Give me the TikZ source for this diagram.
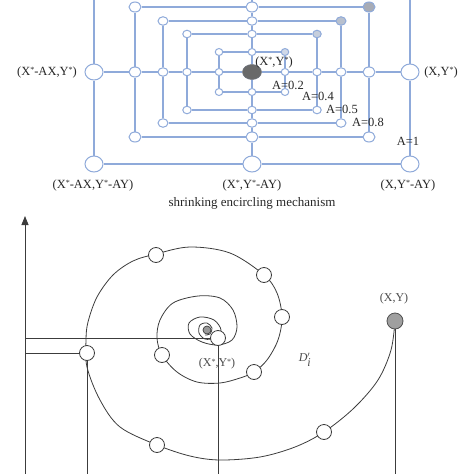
\documentclass[tikz,border=0pt]{standalone}
\usepackage{fontspec}
\setmainfont{Liberation Serif}
\usetikzlibrary{shapes.geometric,arrows.meta}
\definecolor{gb}{RGB}{143,170,218}
\definecolor{dk}{RGB}{60,60,60}
\definecolor{g8}{RGB}{168,172,182}
\definecolor{g5}{RGB}{184,192,206}
\definecolor{g4}{RGB}{198,206,220}
\definecolor{g2}{RGB}{208,216,232}
\definecolor{cg}{RGB}{105,105,105}
\newcommand\st{\raisebox{2.4pt}{\fontsize{8pt}{8pt}\selectfont *}}
\begin{document}
\begin{tikzpicture}[x=1pt,y=-1pt,
  bnode/.style={ellipse,draw=gb,line width=1pt,fill=white,inner sep=0pt},
  bline/.style={draw=gb,line width=1.1pt},
  lbl/.style={font=\fontsize{12.5pt}{14pt}\selectfont,inner sep=0pt,text=black!85},
  snode/.style={circle,draw=dk,line width=0.8pt,fill=white,minimum size=15pt,inner sep=0pt},
  sline/.style={draw=dk,line width=0.8pt}]
\useasboundingbox (0,0) rectangle (474,474);
\clip (0,0) rectangle (474,474);
% ---------- top: shrinking encircling mechanism ----------
\node[ellipse,fill=cg,draw=cg!80!gb,line width=0.6pt,minimum width=19pt,minimum height=15pt,inner sep=0pt] (C) at (252,72) {};
\foreach \nm/\hw/\hh/\ew/\eh/\fc in {R1/158/92/18/16/white, R8/117/65/12/10/g8, R5/89/51/10/8.5/g5, R4/65/38/8.5/7.5/g4, R2/33/20/7.5/7/g2}{
  \node[bnode,minimum width=\ew pt,minimum height=\eh pt] (\nm-tl) at (252-\hw,72-\hh) {};
  \node[bnode,minimum width=\ew pt,minimum height=\eh pt] (\nm-tm) at (252,72-\hh) {};
  \node[bnode,fill=\fc,minimum width=\ew pt,minimum height=\eh pt] (\nm-tr) at (252+\hw,72-\hh) {};
  \node[bnode,minimum width=\ew pt,minimum height=\eh pt] (\nm-ml) at (252-\hw,72) {};
  \node[bnode,minimum width=\ew pt,minimum height=\eh pt] (\nm-mr) at (252+\hw,72) {};
  \node[bnode,minimum width=\ew pt,minimum height=\eh pt] (\nm-bl) at (252-\hw,72+\hh) {};
  \node[bnode,minimum width=\ew pt,minimum height=\eh pt] (\nm-bm) at (252,72+\hh) {};
  \node[bnode,minimum width=\ew pt,minimum height=\eh pt] (\nm-br) at (252+\hw,72+\hh) {};
  \draw[bline] (\nm-tl) -- (\nm-tm) -- (\nm-tr) -- (\nm-mr) -- (\nm-br) -- (\nm-bm) -- (\nm-bl) -- (\nm-ml) -- (\nm-tl);
}
\draw[bline] (R1-ml) -- (R8-ml) -- (R5-ml) -- (R4-ml) -- (R2-ml) -- (C) -- (R2-mr) -- (R4-mr) -- (R5-mr) -- (R8-mr) -- (R1-mr);
\draw[bline] (R1-tm) -- (R8-tm) -- (R5-tm) -- (R4-tm) -- (R2-tm) -- (C) -- (R2-bm) -- (R4-bm) -- (R5-bm) -- (R8-bm) -- (R1-bm);
\node[lbl] (l1) at (47,72) {(X\st-AX,Y\st)};
\node[lbl] (l2) at (441,72) {(X,Y\st)};
\node[lbl] (l3) at (274,62) {(X\st,Y\st)};
\node[lbl] (a2) at (288,85) {A=0.2};
\node[lbl] (a4) at (318,96) {A=0.4};
\node[lbl] (a5) at (342,109) {A=0.5};
\node[lbl] (a8) at (368,122) {A=0.8};
\node[lbl] (a1) at (408,141) {A=1};
\node[lbl] (l4) at (93,185) {(X\st-AX,Y\st-AY)};
\node[lbl] (l5) at (252,185) {(X\st,Y\st-AY)};
\node[lbl] (l6) at (408,185) {(X,Y\st-AY)};
\node[lbl,font=\fontsize{13pt}{15pt}\selectfont] (cap) at (252,203) {shrinking encircling mechanism};
% ---------- bottom: spiral ----------
\coordinate (axb) at (25,474);
\coordinate (axt) at (25,216);
\coordinate (ax1) at (25,338);
\coordinate (ax2) at (25,353);
\coordinate (b1) at (87,474);
\coordinate (b2) at (218,474);
\coordinate (b3) at (395,474);
\draw[sline] plot[smooth,tension=0.55] coordinates {
 (395,321) (391,350) (378,380) (354,408) (324,432) (295,447) (260,457) (220,460)
 (190,456) (157,445) (120,427) (100,400) (87,367) (86,340) (88,322) (97,297)
 (113,275) (133,261) (156,254) (190,247) (230,253) (264,275) (277,293) (282,317)
 (278,340) (267,360) (254,372) (240,378) (220,383) (197,382) (177,372) (162,355)
 (157,338) (160,320) (173,303) (198,296) (220,298) (233,310) (237,327) (232,340)
 (218,345) (202,342) (190,334) (189,323) (200,317) (214,320) (221,330) (215,338)
 (205,339) (199,333) (200,325) (207,323) (212,328) (210,334) (205,335)};
\node[snode] (s1) at (324,432) {};
\node[snode] (s2) at (157,445) {};
\node[snode] (s3) at (87,353) {};
\node[snode] (s4) at (156,255) {};
\node[snode] (s5) at (264,275) {};
\node[snode] (s6) at (282,317) {};
\node[snode] (s7) at (254,372) {};
\node[snode] (s8) at (162,355) {};
\node[circle,draw=dk,line width=0.7pt,fill=gray!80,minimum size=8pt,inner sep=0pt] (gd) at (207,330) {};
\node[snode] (xs) at (218,338) {};
\node[circle,draw=dk!90,line width=0.8pt,fill=gray!75,minimum size=16pt,inner sep=0pt] (xy) at (395,321) {};
\draw[sline,-{Triangle[width=7pt,length=9pt]}] (axb) -- (axt);
\draw[sline] (ax1) -- (xs);
\draw[sline] (xs) -- (b2);
\draw[sline] (ax2) -- (s3);
\draw[sline] (s3) -- (b1);
\draw[sline] (xy) -- (b3);
\node[lbl,font=\fontsize{12pt}{14pt}\selectfont,text=black!70] (txy) at (394,299) {(X,Y)};
\node[lbl,font=\fontsize{12pt}{14pt}\selectfont,text=black!70] (txs) at (217,364) {(X\st,Y\st)};
\node[lbl,font=\fontsize{12pt}{14pt}\selectfont,text=black!70] (td) at (305,360) {\textit{D}$^{\prime}_{\textit{i}}$};
\end{tikzpicture}
\end{document}
